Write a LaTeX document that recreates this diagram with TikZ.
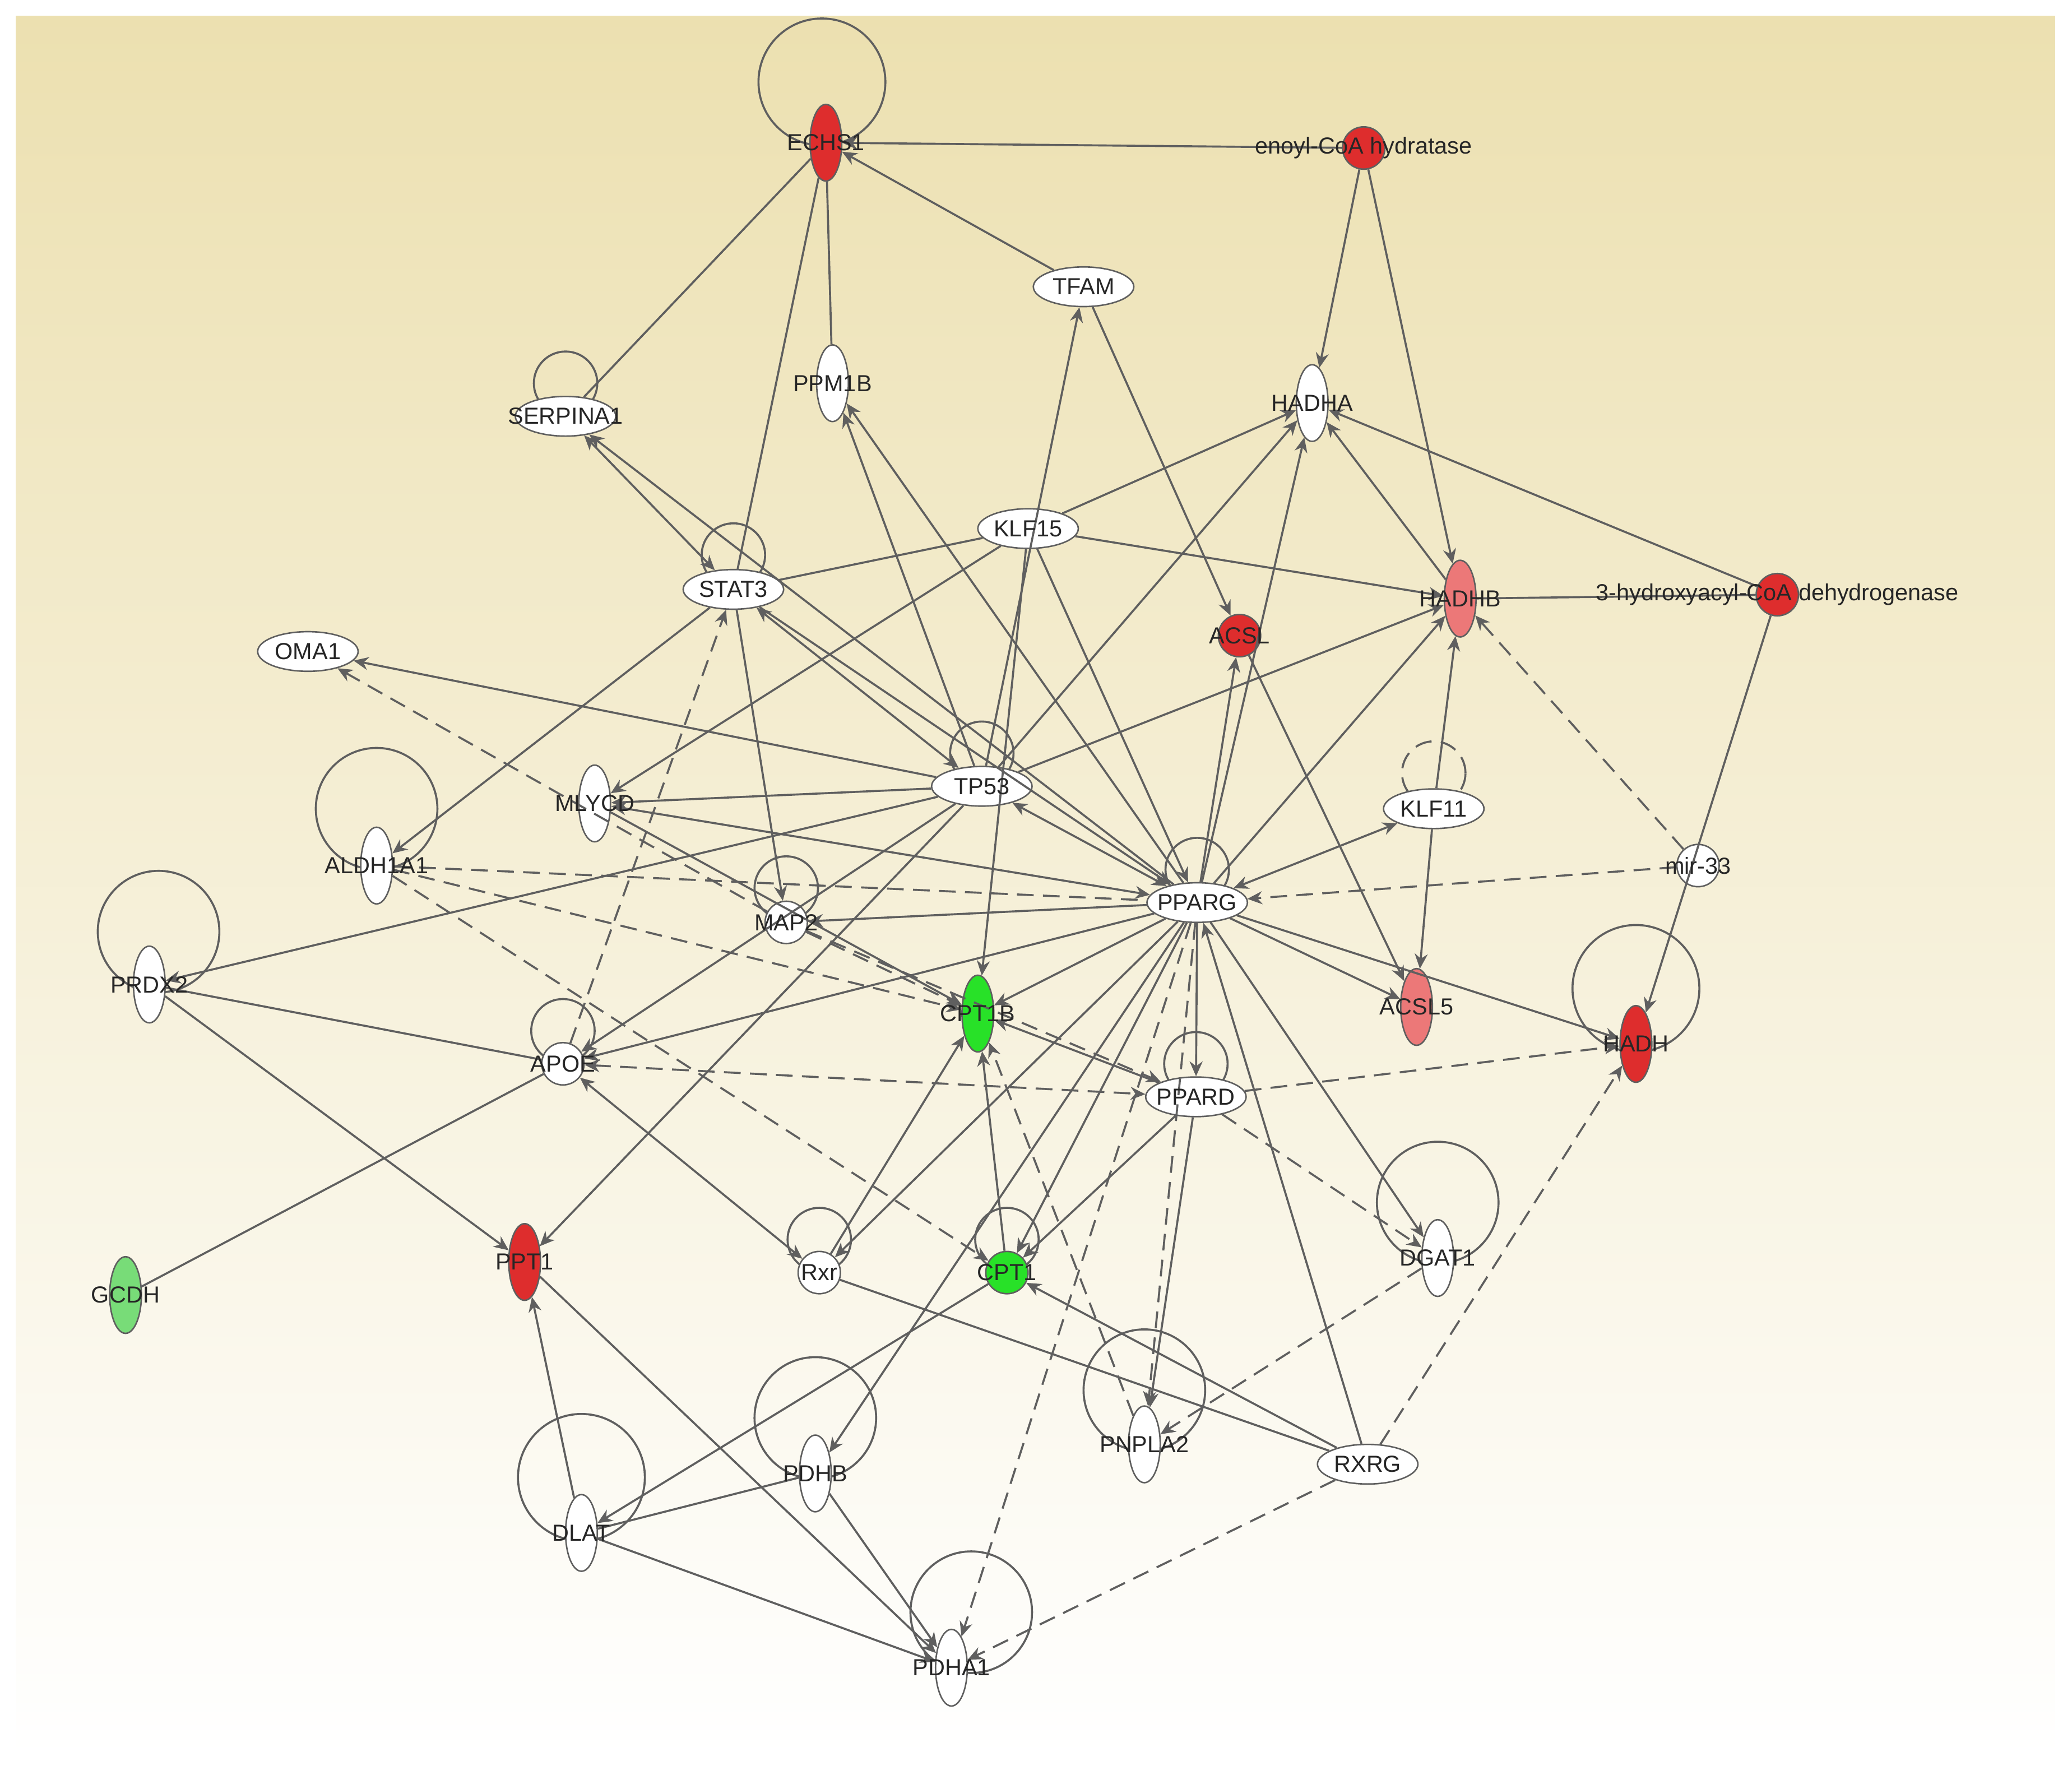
\documentclass[tikz,border=0pt]{standalone}
\usepackage{fontspec}
\setmainfont{Liberation Sans}
\usetikzlibrary{shapes.geometric,arrows.meta}
\definecolor{bgtan}{RGB}{236,224,176}
\definecolor{edgegray}{RGB}{95,95,95}
\definecolor{upred}{RGB}{222,45,45}
\definecolor{lightred}{RGB}{236,120,120}
\definecolor{upgreen}{RGB}{40,225,40}
\definecolor{lightgreen}{RGB}{120,220,120}
\tikzset{
  oval/.style={ellipse, draw=edgegray, line width=0.8pt, minimum width=1.9cm, minimum height=0.75cm},
  enz/.style={ellipse, draw=edgegray, line width=0.8pt, minimum width=0.6cm, minimum height=1.45cm},
  circ/.style={circle, draw=edgegray, line width=0.8pt, minimum size=0.8cm},
  lbl/.style={font=\fontsize{12.5}{14}\selectfont, text=black!85},
  edge/.style={draw=edgegray, line width=1.1pt, -{Stealth[length=8pt,width=7pt]}},
  line/.style={draw=edgegray, line width=1.1pt},
  both/.style={draw=edgegray, line width=1.1pt, {Stealth[length=8pt,width=7pt]}-{Stealth[length=8pt,width=7pt]}},
  loop/.style={draw=edgegray, line width=1.1pt},
  dsh/.style={dash pattern=on 9pt off 5pt}
}
% gene: name, position, shape, fill
\newcommand{\gene}[4]{\node[#3, fill=#4] (#1) at (#2) {};}
\begin{document}
\begin{tikzpicture}[x=0.025cm,y=-0.025cm]
\useasboundingbox (0,0) rectangle (1568,1343);
\fill[white] (0,0) rectangle (1568,1343);
\shade[top color=bgtan, bottom color=white] (12,12) rectangle (1555,1330);

% self loops
\draw[loop] (622,62) circle (1.2cm);
\draw[loop] (285,612) circle (1.15cm);
\draw[loop] (120,705) circle (1.15cm);
\draw[loop] (1238,748) circle (1.2cm);
\draw[loop] (1088,910) circle (1.15cm);
\draw[loop] (866,1052) circle (1.15cm);
\draw[loop] (617,1073) circle (1.15cm);
\draw[loop] (440,1118) circle (1.2cm);
\draw[loop] (735,1220) circle (1.15cm);
\draw[loop] (428,290) circle (0.6cm);
\draw[loop] (555,420) circle (0.6cm);
\draw[loop] (743,570) circle (0.6cm);
\draw[loop,dsh] (1085,585) circle (0.6cm);
\draw[loop] (906,658) circle (0.6cm);
\draw[loop] (595,672) circle (0.6cm);
\draw[loop] (426,780) circle (0.6cm);
\draw[loop] (905,805) circle (0.6cm);
\draw[loop] (620,938) circle (0.6cm);
\draw[loop] (762,938) circle (0.6cm);

% nodes
\gene{echs}{625,108}{enz}{upred}
\gene{enoyl}{1032,112}{circ}{upred}
\gene{tfam}{820,217}{oval}{white}
\gene{ppm}{630,290}{enz}{white}
\gene{serp}{428,315}{oval}{white}
\gene{hadha}{993,305}{enz}{white}
\gene{klf15}{778,400}{oval}{white}
\gene{stat}{555,446}{oval}{white}
\gene{hadhb}{1105,453}{enz}{lightred}
\gene{hydro}{1345,450}{circ}{upred}
\gene{acsl}{938,481}{circ}{upred}
\gene{oma}{233,493}{oval}{white}
\gene{tp}{743,595}{oval}{white}
\gene{klf11}{1085,612}{oval}{white}
\gene{mlycd}{450,608}{enz}{white}
\gene{aldh}{285,655}{enz}{white}
\gene{mir}{1285,655}{circ}{white}
\gene{pparg}{906,683}{oval}{white}
\gene{map}{595,698}{circ}{white}
\gene{prdx}{113,745}{enz}{white}
\gene{cptb}{740,767}{enz}{upgreen}
\gene{acsl5}{1072,762}{enz}{lightred}
\gene{hadh}{1238,790}{enz}{upred}
\gene{apoe}{426,805}{circ}{white}
\gene{ppard}{905,830}{oval}{white}
\gene{dgat}{1088,952}{enz}{white}
\gene{gcdh}{95,980}{enz}{lightgreen}
\gene{ppt}{397,955}{enz}{upred}
\gene{rxr}{620,963}{circ}{white}
\gene{cpt}{762,963}{circ}{upgreen}
\gene{pnpla}{866,1093}{enz}{white}
\gene{rxrg}{1035,1108}{oval}{white}
\gene{pdhb}{617,1115}{enz}{white}
\gene{dlat}{440,1160}{enz}{white}
\gene{pdha}{720,1262}{enz}{white}

% connectors
\draw[edge] (enoyl) -- (echs);
\draw[edge] (enoyl) -- (hadha);
\draw[edge] (enoyl) -- (hadhb);
\draw[edge] (tfam) -- (echs);
\draw[line] (echs) -- (serp);
\draw[line] (echs) -- (ppm);
\draw[line] (echs) -- (stat);
\draw[edge] (tfam) -- (acsl);
\draw[edge] (tp) -- (tfam);
\draw[edge] (hydro) -- (hadha);
\draw[line] (hydro) -- (hadhb);
\draw[edge] (hydro) -- (hadh);
\draw[edge] (hadhb) -- (hadha);
\draw[edge] (klf15) -- (hadha);
\draw[edge] (klf15) -- (hadhb);
\draw[line] (klf15) -- (stat);
\draw[edge] (klf15) -- (mlycd);
\draw[edge] (klf15) -- (cptb);
\draw[edge] (klf15) -- (pparg);
\draw[both] (stat) -- (serp);
\draw[edge] (stat) -- (aldh);
\draw[edge] (stat) -- (map);
\draw[both] (tp) -- (stat);
\draw[edge] (stat) -- (pparg);
\draw[edge] (pparg) -- (serp);
\draw[edge] (tp) -- (ppm);
\draw[edge] (pparg) -- (ppm);
\draw[edge] (tp) -- (oma);
\draw[edge,dsh] (map) -- (oma);
\draw[edge] (tp) -- (hadha);
\draw[edge] (tp) -- (hadhb);
\draw[both] (tp) -- (pparg);
\draw[edge] (tp) -- (prdx);
\draw[edge] (tp) -- (ppt);
\draw[edge] (tp) -- (mlycd);
\draw[edge] (tp) -- (apoe);
\draw[edge] (klf11) -- (hadhb);
\draw[edge] (klf11) -- (acsl5);
\draw[both] (pparg) -- (klf11);
\draw[edge,dsh] (mir) -- (hadhb);
\draw[edge,dsh] (mir) -- (pparg);
\draw[edge] (pparg) -- (acsl);
\draw[edge] (acsl) -- (acsl5);
\draw[edge] (pparg) -- (hadhb);
\draw[edge] (pparg) -- (hadha);
\draw[edge] (pparg) -- (acsl5);
\draw[edge] (pparg) -- (hadh);
\draw[edge] (pparg) -- (cptb);
\draw[edge] (pparg) -- (cpt);
\draw[edge] (pparg) -- (ppard);
\draw[edge] (pparg) -- (dgat);
\draw[edge,dsh] (pparg) -- (pnpla);
\draw[edge,dsh] (pparg) -- (pdha);
\draw[edge] (pparg) -- (map);
\draw[edge] (pparg) -- (apoe);
\draw[edge] (pparg) -- (rxr);
\draw[edge] (pparg) -- (pdhb);
\draw[edge] (rxrg) -- (pparg);
\draw[line,dsh] (aldh) -- (pparg);
\draw[both] (mlycd) -- (pparg);
\draw[edge,dsh] (ppard) -- (hadh);
\draw[edge] (ppard) -- (cptb);
\draw[edge] (ppard) -- (cpt);
\draw[edge,dsh] (ppard) -- (dgat);
\draw[edge] (ppard) -- (pnpla);
\draw[both,dsh] (apoe) -- (ppard);
\draw[edge,dsh] (map) -- (ppard);
\draw[both] (rxr) -- (apoe);
\draw[edge] (rxr) -- (cptb);
\draw[line] (rxr) -- (rxrg);
\draw[edge] (cpt) -- (cptb);
\draw[edge,dsh] (pnpla) -- (cptb);
\draw[edge] (rxrg) -- (cpt);
\draw[edge,dsh] (rxrg) -- (hadh);
\draw[edge,dsh] (rxrg) -- (pdha);
\draw[edge,dsh] (dgat) -- (pnpla);
\draw[line] (prdx) -- (apoe);
\draw[edge] (prdx) -- (ppt);
\draw[line] (gcdh) -- (apoe);
\draw[edge] (ppt) -- (pdha);
\draw[edge] (dlat) -- (ppt);
\draw[edge] (dlat) -- (pdha);
\draw[edge] (pdhb) -- (pdha);
\draw[line] (dlat) -- (pdhb);
\draw[edge] (cpt) -- (dlat);
\draw[edge,dsh] (aldh) -- (cptb);
\draw[edge] (mlycd) -- (cptb);
\draw[edge,dsh] (map) -- (cptb);
\draw[edge,dsh] (apoe) -- (stat);
\draw[edge,dsh] (aldh) -- (cpt);

% labels
\foreach \n/\t in {echs/ECHS1, enoyl/enoyl-CoA hydratase, tfam/TFAM, ppm/PPM1B,
  serp/SERPINA1, hadha/HADHA, klf15/KLF15, stat/STAT3, hadhb/HADHB,
  hydro/3-hydroxyacyl-CoA dehydrogenase, acsl/ACSL, oma/OMA1, tp/TP53,
  klf11/KLF11, mlycd/MLYCD, aldh/ALDH1A1, mir/mir-33, pparg/PPARG, map/MAP2,
  prdx/PRDX2, cptb/CPT1B, acsl5/ACSL5, hadh/HADH, apoe/APOE, ppard/PPARD,
  dgat/DGAT1, gcdh/GCDH, ppt/PPT1, rxr/Rxr, cpt/CPT1, pnpla/PNPLA2,
  rxrg/RXRG, pdhb/PDHB, dlat/DLAT, pdha/PDHA1}
  \node[lbl] (\n-t) at (\n) {\t};
\end{tikzpicture}
\end{document}
